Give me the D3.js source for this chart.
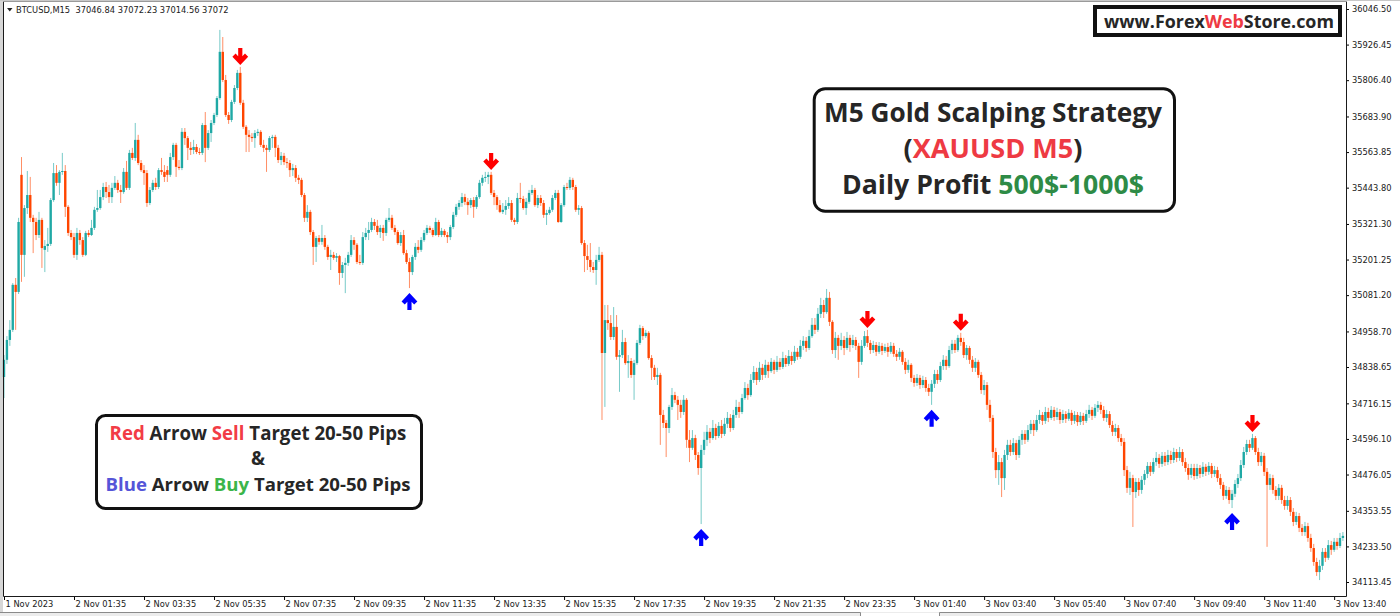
<!DOCTYPE html>
<html><head><meta charset="utf-8">
<script src="https://cdn.jsdelivr.net/npm/d3@7"></script>
<style>
html,body{margin:0;padding:0;background:#fff;}
svg{display:block;}
</style></head><body>
<svg id="c" width="1400" height="616"></svg>
<script>
const opens = [34805,34863,34930,34964,35116,35092,35487,35217,35375,35419,
35342,35328,35284,35335,35234,35247,35254,35402,35493,35460,
35497,35500,35379,35291,35277,35217,35291,35267,35217,35291,
35284,35308,35369,35375,35412,35446,35429,35412,35443,35460,
35436,35429,35497,35443,35561,35544,35605,35527,35503,35493,
35392,35436,35460,35446,35503,35497,35503,35487,35547,35588,
35514,35510,35632,35611,35578,35571,35581,35564,35561,35655,
35578,35628,35662,35689,35746,35902,35807,35689,35672,35733,
35780,35831,35730,35649,35622,35615,35611,35628,35632,35588,
35578,35571,35611,35615,35578,35537,35551,35530,35527,35503,
35510,35477,35470,35419,35342,35362,35294,35244,35274,35261,
35274,35244,35210,35217,35207,35213,35156,35183,35190,35217,
35267,35251,35193,35190,35277,35291,35301,35328,35315,35294,
35308,35291,35335,35342,35308,35294,35257,35284,35223,35193,
35159,35210,35244,35234,35267,35291,35308,35301,35284,35328,
35284,35298,35284,35277,35311,35352,35379,35392,35412,35396,
35385,35402,35379,35412,35460,35477,35480,35487,35426,35412,
35385,35362,35369,35382,35392,35335,35328,35409,35406,35375,
35396,35426,35436,35385,35409,35392,35352,35358,35369,35409,
35426,35328,35385,35446,35443,35470,35446,35369,35375,35257,
35213,35200,35176,35166,35200,35217,34886,34997,34987,34940,
34974,34873,34879,34923,34852,34859,34812,34852,34920,34970,
34943,34954,34869,34836,34805,34812,34677,34650,34633,34704,
34744,34728,34711,34687,34728,34593,34566,34599,34542,34498,
34559,34593,34620,34599,34633,34606,34640,34613,34647,34667,
34633,34677,34704,34687,34734,34768,34744,34795,34822,34795,
34836,34812,34846,34825,34856,34829,34856,34839,34869,34849,
34876,34859,34890,34873,34910,34927,34903,34943,34981,34964,
35018,35048,35024,35072,34991,34896,34937,34910,34930,34903,
34937,34913,34930,34910,34856,34910,34943,34920,34896,34913,
34890,34910,34893,34906,34890,34910,34883,34873,34890,34856,
34829,34846,34802,34785,34802,34778,34795,34768,34755,34782,
34815,34795,34842,34863,34842,34896,34917,34896,34937,34923,
34879,34903,34863,34836,34856,34812,34761,34778,34711,34667,
34552,34491,34518,34464,34542,34576,34552,34582,34542,34593,
34613,34593,34626,34647,34626,34660,34677,34657,34687,34667,
34694,34670,34687,34660,34680,34664,34684,34657,34677,34653,
34674,34657,34680,34694,34674,34701,34711,34694,34667,34680,
34643,34620,34633,34599,34586,34491,34431,34464,34417,34451,
34424,34458,34478,34505,34485,34518,34532,34512,34539,34518,
34542,34525,34552,34532,34552,34518,34498,34475,34498,34471,
34498,34478,34502,34485,34505,34478,34491,34464,34441,34404,
34424,34390,34411,34444,34464,34508,34552,34579,34566,34599,
34552,34518,34539,34485,34441,34464,34424,34404,34431,34390,
34370,34390,34350,34316,34336,34296,34282,34302,34262,34228,
34181,34147,34168,34215,34195,34238,34222,34249,34235,34262];

const highs = [34879,34943,34997,35122,35139,35342,35547,35385,35500,35480,
35352,35342,35362,35342,35267,35308,35409,35527,35520,35503,
35561,35520,35385,35301,35291,35308,35301,35277,35298,35301,
35335,35379,35436,35436,35460,35463,35453,35460,35483,35470,
35453,35510,35534,35571,35578,35662,35622,35537,35520,35503,
35446,35470,35477,35510,35544,35520,35517,35561,35595,35595,
35537,35645,35645,35618,35598,35605,35591,35578,35662,35699,
35638,35672,35696,35753,35976,35952,35824,35699,35740,35790,
35841,35851,35740,35655,35638,35628,35638,35642,35638,35605,
35588,35618,35622,35622,35588,35564,35561,35544,35537,35524,
35520,35487,35477,35426,35385,35369,35301,35281,35284,35318,
35284,35251,35234,35227,35223,35217,35193,35207,35227,35284,
35277,35257,35217,35294,35308,35328,35342,35338,35335,35318,
35318,35342,35375,35352,35318,35301,35294,35301,35234,35207,
35217,35257,35267,35277,35301,35318,35315,35308,35342,35335,
35308,35304,35294,35318,35362,35389,35402,35426,35423,35409,
35409,35412,35419,35470,35487,35497,35497,35497,35436,35419,
35402,35392,35402,35412,35402,35342,35426,35460,35416,35409,
35436,35453,35443,35419,35419,35402,35369,35379,35419,35436,
35436,35392,35453,35460,35480,35477,35453,35385,35382,35267,
35251,35257,35193,35217,35244,35227,35048,35048,35014,35041,
35014,34896,34964,34937,34879,34869,34863,34930,34981,34977,
34964,34960,34879,34846,34836,34819,34694,34660,34711,34768,
34755,34741,34728,34744,34734,34626,34626,34610,34552,34576,
34620,34643,34633,34660,34647,34653,34660,34667,34687,34680,
34694,34728,34721,34748,34788,34782,34815,34842,34836,34856,
34849,34863,34856,34869,34863,34876,34869,34890,34879,34896,
34890,34910,34903,34930,34943,34940,34964,35004,35004,35038,
35072,35065,35102,35092,34997,34957,34947,34954,34943,34957,
34947,34947,34940,34920,34930,34960,34964,34930,34927,34923,
34923,34920,34917,34920,34923,34920,34896,34903,34896,34869,
34863,34852,34812,34815,34812,34809,34805,34782,34795,34829,
34829,34856,34879,34876,34910,34930,34930,34947,34954,34937,
34913,34910,34876,34869,34863,34822,34795,34788,34728,34677,
34566,34542,34532,34559,34593,34593,34599,34593,34606,34626,
34626,34643,34660,34660,34677,34694,34687,34704,34701,34707,
34704,34701,34697,34694,34690,34697,34694,34690,34687,34687,
34684,34694,34711,34704,34714,34724,34721,34707,34694,34690,
34657,34647,34643,34613,34599,34505,34485,34475,34464,34464,
34471,34491,34518,34518,34532,34552,34545,34552,34552,34559,
34556,34566,34562,34569,34562,34532,34512,34512,34512,34512,
34508,34518,34512,34518,34515,34505,34502,34478,34451,34437,
34434,34424,34458,34478,34525,34569,34593,34593,34613,34606,
34566,34552,34549,34498,34478,34475,34437,34444,34441,34404,
34404,34400,34363,34350,34346,34309,34316,34313,34276,34242,
34195,34188,34228,34228,34255,34252,34262,34262,34279,34282];

const lows = [34734,34849,34910,34957,34964,35085,35126,35143,35355,35328,
35223,35267,35274,35173,35159,35227,35247,35396,35450,35419,
35487,35345,35281,35267,35207,35200,35251,35210,35213,35277,
35281,35301,35362,35369,35402,35409,35392,35392,35436,35426,
35392,35423,35436,35436,35537,35534,35520,35497,35453,35379,
35385,35429,35436,35439,35487,35463,35463,35480,35537,35480,
35503,35503,35588,35537,35554,35557,35557,35554,35554,35530,
35571,35598,35655,35682,35740,35800,35682,35659,35665,35726,
35773,35723,35642,35564,35564,35598,35578,35618,35581,35564,
35497,35564,35578,35547,35527,35520,35520,35510,35480,35483,
35463,35456,35412,35328,35328,35284,35183,35193,35251,35251,
35234,35200,35166,35200,35193,35116,35139,35088,35180,35210,
35234,35186,35183,35183,35267,35267,35294,35301,35284,35274,
35264,35281,35328,35301,35284,35251,35247,35217,35186,35105,
35149,35200,35223,35227,35261,35284,35291,35277,35281,35277,
35277,35277,35257,35267,35304,35345,35369,35379,35385,35352,
35375,35342,35372,35406,35450,35463,35456,35419,35385,35369,
35358,35355,35352,35372,35328,35318,35321,35392,35369,35352,
35389,35419,35379,35375,35382,35342,35318,35352,35362,35402,
35325,35325,35379,35436,35436,35436,35362,35352,35251,35159,
35166,35159,35156,35116,35193,34660,34704,34964,34930,34930,
34863,34755,34869,34846,34802,34802,34728,34846,34913,34930,
34937,34863,34795,34795,34778,34576,34633,34535,34616,34694,
34717,34660,34667,34677,34566,34518,34559,34525,34475,34309,
34542,34572,34582,34593,34593,34599,34599,34606,34633,34620,
34626,34667,34667,34680,34728,34728,34738,34785,34778,34788,
34795,34802,34802,34819,34815,34822,34829,34832,34839,34842,
34846,34852,34863,34866,34896,34890,34896,34937,34950,34957,
35004,35004,35018,34977,34883,34869,34863,34896,34879,34896,
34890,34903,34896,34802,34846,34903,34906,34883,34886,34876,
34883,34879,34886,34873,34883,34873,34859,34863,34846,34815,
34819,34788,34772,34775,34765,34768,34755,34741,34711,34768,
34782,34788,34829,34829,34836,34883,34886,34890,34910,34869,
34863,34849,34822,34822,34802,34748,34744,34694,34653,34532,
34464,34441,34400,34424,34525,34539,34542,34525,34532,34576,
34579,34586,34613,34606,34620,34647,34643,34647,34653,34660,
34657,34660,34647,34650,34650,34657,34643,34647,34640,34643,
34643,34650,34667,34660,34667,34687,34680,34657,34653,34633,
34606,34606,34586,34572,34471,34414,34407,34299,34397,34404,
34411,34441,34464,34471,34478,34505,34498,34502,34505,34508,
34512,34515,34518,34522,34505,34485,34458,34464,34458,34461,
34464,34468,34471,34475,34464,34468,34451,34427,34390,34394,
34377,34363,34400,34431,34454,34498,34542,34552,34559,34542,
34505,34505,34471,34232,34424,34411,34390,34390,34377,34357,
34357,34336,34302,34306,34282,34269,34269,34249,34215,34168,
34134,34120,34154,34181,34188,34205,34215,34222,34228,34252];

const closes = [34863,34930,34964,35116,35092,35328,35217,35375,35419,35342,
35328,35284,35335,35240,35247,35254,35402,35493,35460,35497,
35500,35379,35291,35277,35217,35291,35267,35217,35291,35284,
35308,35369,35375,35412,35446,35429,35412,35443,35460,35436,
35429,35497,35443,35561,35544,35605,35527,35503,35493,35392,
35436,35460,35446,35503,35497,35480,35487,35547,35588,35514,
35510,35632,35611,35578,35571,35581,35564,35561,35655,35578,
35628,35662,35689,35746,35902,35807,35689,35672,35733,35780,
35831,35730,35649,35622,35615,35611,35628,35632,35588,35578,
35571,35611,35615,35578,35537,35551,35530,35527,35503,35510,
35477,35470,35419,35342,35362,35294,35244,35274,35261,35274,
35244,35210,35217,35207,35213,35156,35183,35190,35217,35267,
35251,35193,35190,35277,35291,35301,35328,35315,35294,35308,
35291,35335,35342,35308,35294,35257,35284,35223,35193,35159,
35210,35244,35234,35267,35291,35308,35301,35284,35328,35284,
35298,35284,35277,35311,35352,35379,35392,35412,35396,35385,
35402,35379,35412,35460,35477,35480,35487,35426,35412,35385,
35362,35369,35382,35392,35335,35328,35409,35406,35375,35396,
35426,35436,35385,35409,35392,35352,35358,35369,35409,35426,
35328,35385,35446,35443,35470,35446,35369,35375,35257,35213,
35200,35176,35166,35200,35217,34886,34997,34987,34940,34974,
34873,34879,34923,34852,34859,34812,34852,34920,34970,34943,
34954,34869,34836,34805,34812,34677,34650,34633,34704,34744,
34728,34711,34687,34728,34593,34566,34599,34542,34498,34559,
34593,34620,34599,34633,34606,34640,34613,34647,34667,34633,
34677,34704,34687,34734,34768,34744,34795,34822,34795,34836,
34812,34846,34825,34856,34829,34856,34839,34869,34849,34876,
34859,34890,34873,34910,34927,34903,34943,34981,34964,35018,
35048,35024,35072,34991,34896,34937,34910,34930,34903,34937,
34913,34930,34910,34856,34910,34943,34920,34896,34913,34890,
34910,34893,34906,34890,34910,34883,34873,34890,34856,34829,
34846,34802,34785,34802,34778,34795,34768,34755,34782,34815,
34795,34842,34863,34842,34896,34917,34896,34937,34923,34879,
34903,34863,34836,34856,34812,34761,34778,34711,34667,34552,
34491,34518,34464,34542,34576,34552,34582,34542,34593,34613,
34593,34626,34647,34626,34660,34677,34657,34687,34667,34694,
34670,34687,34660,34680,34664,34684,34657,34677,34653,34674,
34657,34680,34694,34674,34701,34711,34694,34667,34680,34643,
34620,34633,34599,34586,34491,34431,34464,34417,34451,34424,
34458,34478,34505,34485,34518,34532,34512,34539,34518,34542,
34525,34552,34532,34552,34518,34498,34475,34498,34471,34498,
34478,34502,34485,34505,34478,34491,34464,34441,34404,34424,
34390,34411,34444,34464,34508,34552,34579,34566,34599,34552,
34518,34539,34485,34441,34464,34424,34404,34431,34390,34370,
34390,34350,34316,34336,34296,34282,34302,34262,34228,34181,
34147,34168,34215,34195,34238,34222,34249,34235,34262,34269];

const timeLabels = ["1 Nov 2023","2 Nov 01:35","2 Nov 03:35","2 Nov 05:35","2 Nov 07:35","2 Nov 09:35","2 Nov 11:35","2 Nov 13:35","2 Nov 15:35","2 Nov 17:35","2 Nov 19:35","2 Nov 21:35","2 Nov 23:35","3 Nov 01:40","3 Nov 03:40","3 Nov 05:40","3 Nov 07:40","3 Nov 09:40","3 Nov 11:40","3 Nov 13:40"];
const timeLabelBars = [0,24,48,72,96,120,144,168,192,216,240,264,288,312,336,360,384,408,432,456];
const priceTicks = [36046.50,35926.45,35806.40,35683.90,35563.85,35443.80,35321.30,35201.25,35081.20,34958.70,34838.65,34716.15,34596.10,34476.05,34353.55,34233.50,34113.45];
const sellSignals = [81,167,296,328,428];
const buySignals = [139,239,318,421];
const headerText = "BTCUSD,M15  37046.84 37072.23 37014.56 37072";

const svg = d3.select('#c');
const n = closes.length;
const x = d3.scaleLinear().domain([0, n - 1]).range([4, 4 + (n - 1) * 2.917]);
const y = d3.scaleLinear().domain([34113.45, 36046.50]).range([582, 9]);
const UP = '#1fa9a5', DN = '#ff4500';
const AX = "'DejaVu Sans', Verdana, sans-serif";
const BOLD = "'Open Sans', 'DejaVu Sans', sans-serif";

svg.append('rect').attr('width', 1400).attr('height', 616).attr('fill', '#fff');

// frame
svg.append('rect').attr('x', 0).attr('y', 0).attr('width', 3).attr('height', 612).attr('fill', '#d6d6d6');
svg.append('line').attr('x1', 0).attr('x2', 1400).attr('y1', 0.5).attr('y2', 0.5).attr('stroke', '#c8c8c8');
svg.append('rect').attr('x', 0).attr('y', 612).attr('width', 1400).attr('height', 4).attr('fill', '#ececec');
svg.append('path').attr('d', 'M0,612.5 H860.5 V616 M939.5,616 V612.5 H1400').attr('fill', 'none').attr('stroke', '#8a8a8a');
svg.append('rect').attr('x', 861).attr('y', 613).attr('width', 78).attr('height', 3).attr('fill', '#fff');

const data = d3.range(n).map(i => ({i, o: opens[i], h: highs[i], l: lows[i], c: closes[i]}));
const gC = svg.append('g');
gC.selectAll('line.w').data(data).join('line').attr('class', 'w')
  .attr('x1', d => x(d.i)).attr('x2', d => x(d.i))
  .attr('y1', d => y(d.h)).attr('y2', d => y(d.l))
  .attr('stroke', d => d.c >= d.o ? UP : DN).attr('stroke-width', 1).attr('opacity', 0.6);
gC.selectAll('rect.b').data(data).join('rect').attr('class', 'b')
  .attr('x', d => x(d.i) - 1.2).attr('width', 2.4)
  .attr('y', d => y(Math.max(d.o, d.c)))
  .attr('height', d => Math.max(1, Math.abs(y(d.o) - y(d.c))))
  .attr('fill', d => d.c >= d.o ? UP : DN);

// signal arrows (thick Wingdings-style)
const arrow = "M-2.1,-17 L2.1,-17 L2.1,-8.6 L4.7,-11.4 L7.9,-8.3 L0,0 L-7.9,-8.3 L-4.7,-11.4 L-2.1,-8.6 Z";
svg.selectAll('path.sell').data(sellSignals).join('path').attr('class', 'sell')
  .attr('d', arrow).attr('fill', '#ff0000')
  .attr('transform', i => `translate(${x(i)},${y(highs[i]) - 2})`);
svg.selectAll('path.buy').data(buySignals).join('path').attr('class', 'buy')
  .attr('d', arrow).attr('fill', '#0000ff')
  .attr('transform', i => `translate(${x(i)},${y(lows[i]) + 5}) scale(1,-1)`);

// axes
const yAxis = d3.axisRight(y).tickValues(priceTicks).tickFormat(d3.format('.2f')).tickSize(3).tickPadding(3);
const gy = svg.append('g').attr('transform', 'translate(1346,0)').call(yAxis);
gy.select('.domain').remove();
gy.selectAll('line').attr('stroke', '#000');
gy.selectAll('text').attr('font-family', AX).attr('font-size', '8.3px').attr('fill', '#1a1a1a');

const xAxis = d3.axisBottom(x).tickValues(timeLabelBars).tickFormat((d, i) => timeLabels[i]).tickSize(4).tickPadding(1.5);
const gx = svg.append('g').attr('transform', 'translate(0,596)').call(xAxis);
gx.select('.domain').remove();
gx.selectAll('line').attr('stroke', '#000');
gx.selectAll('text').attr('font-family', AX).attr('font-size', '8.3px').attr('fill', '#1a1a1a')
  .attr('text-anchor', 'start').attr('dx', 1);

// plot frame
svg.append('path').attr('d', 'M3.5,1.5 V596.5 H1346.5 V1.5').attr('fill', 'none').attr('stroke', '#1a1a1a');
svg.append('line').attr('x1', 3.5).attr('x2', 1346.5).attr('y1', 1.5).attr('y2', 1.5).attr('stroke', '#9a9a9a');

// header
svg.append('path').attr('d', 'M7,8 L12.5,8 L9.75,11.5 Z').attr('fill', '#222');
svg.append('text').attr('x', 16).attr('y', 12.8).attr('font-family', AX).attr('font-size', '8.3px')
  .attr('fill', '#1a1a1a').style('white-space', 'pre').text(headerText);

function fit(t, target) {
  const w = t.node().getComputedTextLength();
  const fs = parseFloat(t.attr('font-size'));
  if (w > 0) t.attr('font-size', (fs * target / w).toFixed(2));
  return t;
}
function richText(xc, yb, size, parts, target) {
  const t = svg.append('text').attr('x', xc).attr('y', yb).attr('text-anchor', 'middle')
    .attr('font-family', BOLD).attr('font-weight', 700).attr('font-size', size).style('white-space', 'pre');
  parts.forEach(p => t.append('tspan').attr('fill', p[1]).text(p[0]));
  if (target) fit(t, target);
  return t;
}
const DARK = '#262626', RED = '#ee3a43', GREEN = '#2e8b46';

// logo box
svg.append('rect').attr('x', 1095).attr('y', 7).attr('width', 245).attr('height', 28)
  .attr('fill', '#fff').attr('stroke', '#111').attr('stroke-width', 4);
richText(1219, 28, 18, [['www.Forex', DARK], ['Web', RED], ['Store.com', DARK]], 230);

// strategy box
svg.append('rect').attr('x', 814.2).attr('y', 88.8).attr('width', 360.3).attr('height', 122.4).attr('rx', 11)
  .attr('fill', '#fff').attr('stroke', '#111').attr('stroke-width', 3);
richText(993, 122, 23, [['M5 Gold Scalping Strategy', DARK]], 338);
richText(993, 158, 23, [['(', DARK], ['XAUUSD M5', RED], [')', DARK]], 179);
richText(993, 194, 23, [['Daily Profit ', DARK], ['500$-1000$', GREEN]], 302);

// legend box
svg.append('rect').attr('x', 96.5).attr('y', 415.5).attr('width', 325).attr('height', 93).attr('rx', 9)
  .attr('fill', '#fff').attr('stroke', '#111').attr('stroke-width', 3);
const l1 = richText(258, 439.5, 17.5, [['Red', '#f23c46'], [' Arrow ', DARK], ['Sell', '#f23c46'], [' Target 20-50 Pips', DARK]], 297);
richText(258, 465, parseFloat(l1.attr('font-size')), [['&', DARK]], null);
richText(258, 491, 17.5, [['Blue', '#5555d8'], [' Arrow ', DARK], ['Buy', '#3bb54a'], [' Target 20-50 Pips', DARK]], 305);
</script>
</body></html>
